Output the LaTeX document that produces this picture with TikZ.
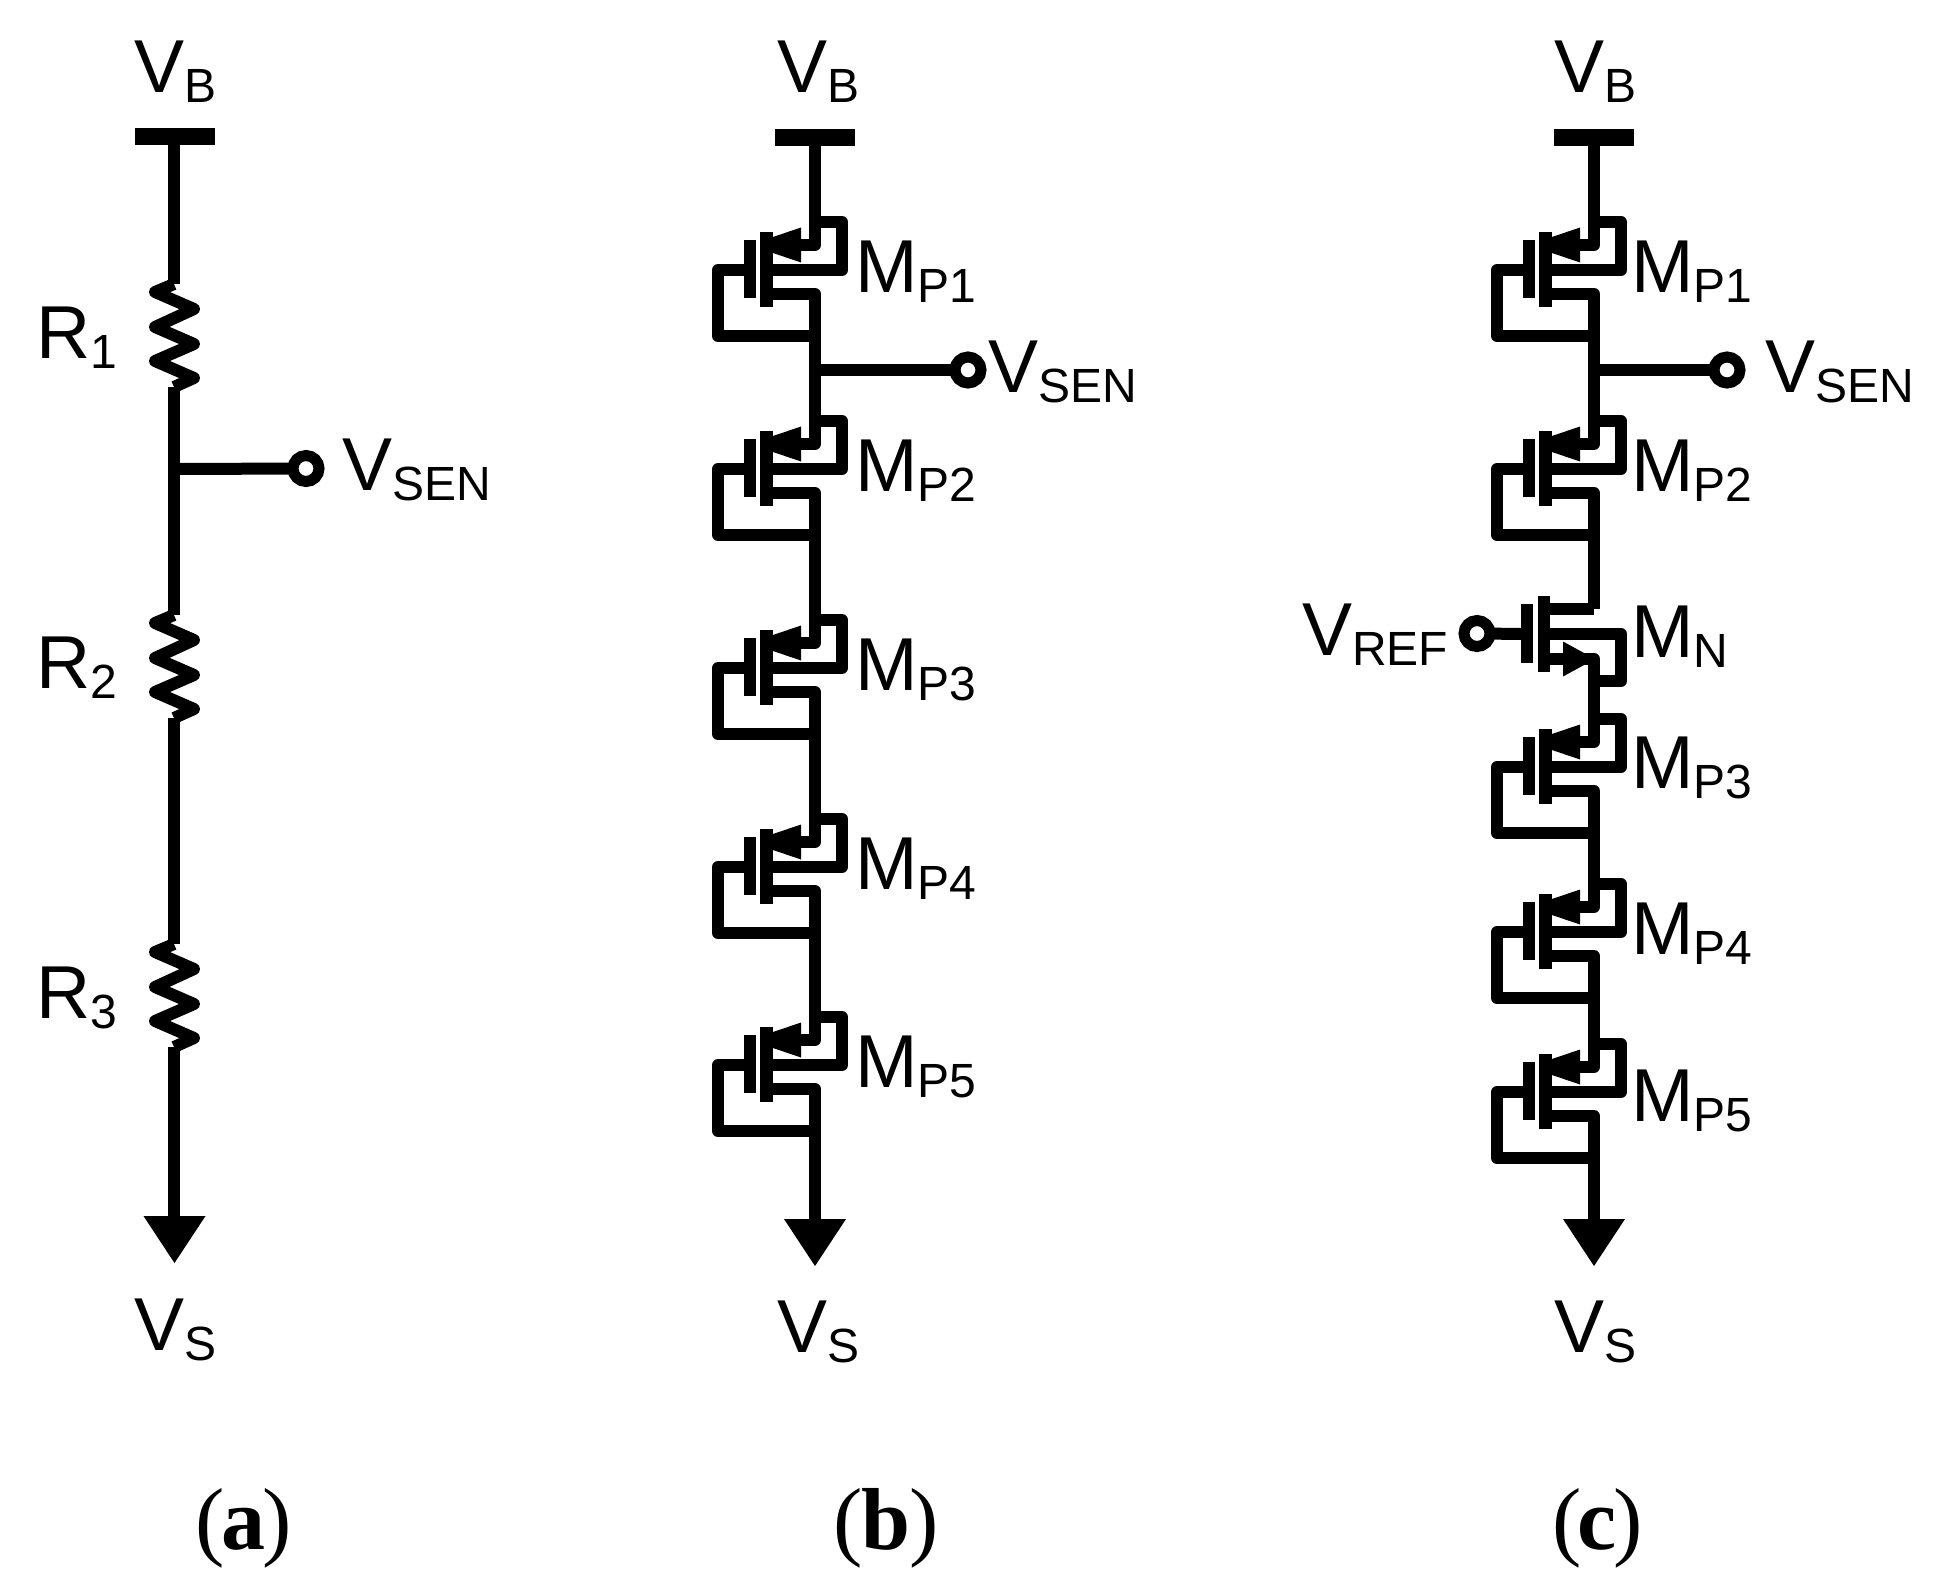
\documentclass[tikz,border=0pt]{standalone}
\usepackage{fontspec}
\setmainfont{Liberation Sans}
\newfontfamily\capfont{Liberation Serif}
\newcommand{\biglab}[2]{{\fontsize{37.5}{40}\selectfont #1}\raisebox{-5pt}{\fontsize{24}{26}\selectfont #2}}
\newcommand{\caplab}[2]{{\capfont\fontsize{44}{48}\selectfont(\kern-#2\textbf{#1}\kern-#2)}}
\tikzset{
  wire/.style={line width=6pt,line join=round,line cap=butt,black},
  plate/.style={line width=6.25pt,line cap=butt,black},
  lab/.style={anchor=base west,inner sep=0pt,outer sep=0pt,text=black},
  capt/.style={anchor=base,inner sep=0pt,outer sep=0pt,text=black},
  term/.style={circle,draw=black,fill=white,line width=5.5pt,minimum size=13pt,inner sep=0pt,outer sep=0pt},
  busbar/.style={rectangle,fill=black,minimum width=40pt,minimum height=8.5pt,inner sep=0pt,outer sep=0pt}
}
% #1 name, #2 wire x, #3 arrow-stub y
\newcommand{\pmosdev}[3]{%
 \begin{scope}[shift={(#2,#3)}]
  \coordinate (#1top) at (0,-23);
  \coordinate (#1bot) at (0,91);
  \draw[wire] (#1top) -- (0,0) -- (-14,0);
  \draw[wire] (#1top) -- (27,-23) -- (27,25) -- (-48,25);
  \draw[wire] (-48,49) -- (0,49) -- (#1bot) -- (-97,91) -- (-97,25) -- (-65,25);
  \draw[plate] (-48.5,-13) -- (-48.5,62);
  \draw[plate] (-65,-5) -- (-65,53);
  \fill[black] (-45,-7) -- (-14,-17.5) -- (-14,17.5) -- (-45,7) -- cycle;
 \end{scope}}
% #1 name, #2 wire x, #3 drain y
\newcommand{\nmosdev}[3]{%
 \begin{scope}[shift={(#2,#3)}]
  \coordinate (#1top) at (0,0);
  \coordinate (#1bot) at (0,72);
  \coordinate (#1gate) at (-67,25);
  \draw[wire] (-50,0) -- (#1top);
  \draw[wire] (-50,25) -- (27,25) -- (27,72) -- (#1bot);
  \draw[wire] (-50,50) -- (-31,50);
  \draw[wire] (-10,50) -- (0,50) -- (#1bot);
  \draw[plate] (-50,-13) -- (-50,63);
  \draw[plate] (-67,-5) -- (-67,54);
  \fill[black] (1,50) -- (-31,32.5) -- (-31,67.5) -- cycle;
 \end{scope}}
% #1 name, #2 x, #3 top y
\newcommand{\gnddev}[3]{%
 \coordinate (#1) at (#2,#3);
 \fill[black] (#2-31,#3) -- (#2+31,#3) -- (#2,#3+47) -- cycle;}
% #1 name, #2 wire x, #3 first bend y
\newcommand{\resdev}[3]{%
 \begin{scope}[shift={(#2,#3)}]
  \coordinate (#1top) at (0,-8);
  \coordinate (#1bot) at (0,95);
  \draw[wire] (#1top) -- (-19,0) -- (20,17) -- (-19,35) -- (20,52) -- (-19,69) -- (20,86) -- (#1bot);
 \end{scope}}
\begin{document}
\begin{tikzpicture}[x=0.5pt,y=-0.5pt]
\useasboundingbox (0,0) rectangle (1937,1584);
% ---------- (a)
\node[busbar] (barA) at (174.5,136.5) {};
\resdev{ra}{174}{292}
\resdev{rb}{174}{623}
\resdev{rc}{174}{952}
\gnddev{gndA}{174.5}{1216}
\coordinate (tapA) at (174,469);
\node[term] (senA) at (306,468.5) {};
\draw[wire] (barA.south -| ratop) -- (ratop);
\draw[wire] (rabot) -- (rbtop);
\draw[wire] (rbbot) -- (rctop);
\draw[wire] (rcbot) -- (gndA -| rcbot);
\draw[wire] (tapA) -- (senA);
\node[lab] (vbA) at (134,93) {\biglab{V}{B}};
\node[lab] (vsA) at (134,1350) {\biglab{V}{S}};
\node[lab] (vsenA) at (342,490) {\biglab{V}{SEN}};
\node[lab] (r1) at (36,358) {\biglab{R}{1}};
\node[lab] (r2) at (36,688) {\biglab{R}{2}};
\node[lab] (r3) at (36,1018) {\biglab{R}{3}};
\node[capt] (capA) at (243.5,1549) {\caplab{a}{1.7pt}};
% ---------- (b)
\node[busbar] (barB) at (815,137.5) {};
\pmosdev{ba}{815}{245}
\pmosdev{bb}{815}{444}
\pmosdev{bc}{815}{643}
\pmosdev{bd}{815}{842}
\pmosdev{be}{815}{1040}
\gnddev{gndB}{815}{1219}
\coordinate (tapB) at (815,370);
\node[term] (senB) at (968,370) {};
\draw[wire] (barB) -- (batop);
\draw[wire] (babot) -- (bbtop);
\draw[wire] (bbbot) -- (bctop);
\draw[wire] (bcbot) -- (bdtop);
\draw[wire] (bdbot) -- (betop);
\draw[wire] (bebot) -- (gndB);
\draw[wire] (tapB) -- (senB);
\node[lab] (vbB) at (777,93) {\biglab{V}{B}};
\node[lab] (vsB) at (777,1352) {\biglab{V}{S}};
\node[lab] (vsenB) at (988,392) {\biglab{V}{SEN}};
\node[lab] (mb1) at (855,292) {\biglab{M}{P1}};
\node[lab] (mb2) at (855,491) {\biglab{M}{P2}};
\node[lab] (mb3) at (855,690) {\biglab{M}{P3}};
\node[lab] (mb4) at (855,889) {\biglab{M}{P4}};
\node[lab] (mb5) at (855,1087) {\biglab{M}{P5}};
\node[capt] (capB) at (886,1549) {\caplab{b}{0.4pt}};
% ---------- (c)
\node[busbar] (barC) at (1594,137.5) {};
\pmosdev{ca}{1594}{245}
\pmosdev{cb}{1594}{444}
\nmosdev{cn}{1594}{609}
\pmosdev{cc}{1594}{742}
\pmosdev{cd}{1594}{907}
\pmosdev{ce}{1594}{1067}
\gnddev{gndC}{1594}{1219}
\coordinate (tapC) at (1594,370);
\node[term] (senC) at (1727,370) {};
\node[term] (refC) at (1477,633.5) {};
\draw[wire] (barC) -- (catop);
\draw[wire] (cabot) -- (cbtop);
\draw[wire] (cbbot) -- (cntop);
\draw[wire] (cnbot) -- (cctop);
\draw[wire] (ccbot) -- (cdtop);
\draw[wire] (cdbot) -- (cetop);
\draw[wire] (cebot) -- (gndC);
\draw[wire] (tapC) -- (senC);
\draw[wire] (refC) -- (cngate);
\node[lab] (vbC) at (1554,93) {\biglab{V}{B}};
\node[lab] (vsC) at (1554,1352) {\biglab{V}{S}};
\node[lab] (vsenC) at (1765,392) {\biglab{V}{SEN}};
\node[lab] (vrefC) at (1302,655) {\biglab{V}{REF}};
\node[lab] (mc1) at (1631,292) {\biglab{M}{P1}};
\node[lab] (mc2) at (1631,491) {\biglab{M}{P2}};
\node[lab] (mcn) at (1631,657) {\biglab{M}{N}};
\node[lab] (mc3) at (1631,788) {\biglab{M}{P3}};
\node[lab] (mc4) at (1631,954) {\biglab{M}{P4}};
\node[lab] (mc5) at (1631,1121) {\biglab{M}{P5}};
\node[capt] (capC) at (1597.5,1549) {\caplab{c}{1.7pt}};
\end{tikzpicture}
\end{document}
